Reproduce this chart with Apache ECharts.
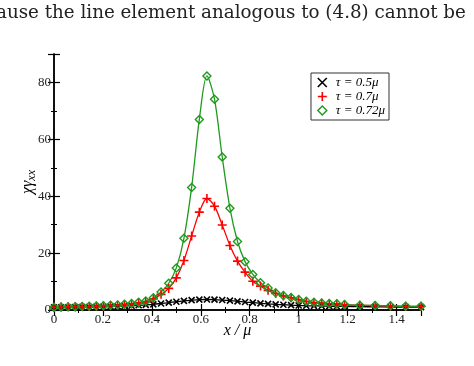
<!DOCTYPE html>
<html>
<head>
<meta charset="utf-8">
<script src="https://cdn.jsdelivr.net/npm/echarts@6/dist/echarts.min.js"></script>
<style>
html,body{margin:0;padding:0;background:#fff;}
#chart{width:474px;height:366px;}
</style>
</head>
<body>
<div id="chart"></div>
<script>
// shared x grid (x / mu)
const xValues = [0, 0.029, 0.058, 0.087, 0.115, 0.144, 0.173, 0.202, 0.231, 0.26, 0.288, 0.317, 0.346, 0.375,
  0.406, 0.4375, 0.469, 0.5, 0.531, 0.5625, 0.594, 0.625, 0.656, 0.6875, 0.719, 0.75, 0.781, 0.8125, 0.844,
  0.875, 0.906, 0.9375, 0.969, 1.0, 1.031, 1.0625, 1.094, 1.125, 1.156, 1.1875, 1.25, 1.3125, 1.375, 1.4375, 1.5];

const tau05 = [0.9, 0.9, 0.95, 1.0, 1.0, 1.05, 1.1, 1.15, 1.2, 1.3, 1.4, 1.5, 1.65, 1.8,
  2.0, 2.3, 2.6, 2.9, 3.2, 3.45, 3.65, 3.7, 3.65, 3.5, 3.3, 3.05, 2.8, 2.6, 2.35,
  2.15, 2.0, 1.85, 1.7, 1.6, 1.5, 1.45, 1.4, 1.35, 1.3, 1.25, 1.2, 1.1, 1.05, 1.0, 1.0];

const tau07 = [1.0, 1.05, 1.1, 1.15, 1.2, 1.25, 1.35, 1.45, 1.55, 1.7, 1.9, 2.1, 2.4, 2.8,
  3.9, 5.5, 7.6, 11.3, 17.4, 26.0, 34.4, 39.2, 36.5, 29.9, 22.7, 17.2, 13.3, 10.1, 8.4,
  6.9, 5.8, 4.9, 4.3, 3.6, 3.0, 2.6, 2.4, 2.2, 2.1, 1.85, 1.65, 1.55, 1.45, 1.3, 1.3];

const tau072 = [1.0, 1.05, 1.1, 1.15, 1.2, 1.3, 1.4, 1.5, 1.65, 1.8, 2.0, 2.3, 2.7, 3.2,
  4.3, 6.3, 9.4, 14.8, 25.2, 43.1, 67.0, 82.3, 74.1, 53.8, 35.8, 24.1, 17.0, 12.5, 9.6,
  7.7, 6.1, 5.1, 4.4, 3.7, 3.1, 2.7, 2.5, 2.3, 2.2, 1.9, 1.7, 1.6, 1.5, 1.3, 1.3];

const seriesNames = ['τ = 0.5μ', 'τ = 0.7μ', 'τ = 0.72μ'];
const xTicks = [0, 0.2, 0.4, 0.6, 0.8, 1, 1.2, 1.4];
const yTicks = [0, 20, 40, 60, 80];

const pairs = arr => xValues.map((x, i) => [x, arr[i]]);
const SERIF = '"Liberation Serif", "DejaVu Serif", serif';
const crossPath = 'path://M0,0L10,10M10,0L0,10';
const plusPath = 'path://M5,0L5,10M0,5L10,5';
const GREEN = '#1e9a1e';

const chart = echarts.init(document.getElementById('chart'), null, {renderer: 'canvas'});

const axisCommon = {
  axisLine: {lineStyle: {color: '#000', width: 1.5}},
  axisTick: {inside: true, length: 6, lineStyle: {color: '#000', width: 1.2}},
  minorTick: {show: true, splitNumber: 2, length: 3, lineStyle: {color: '#000', width: 1}},
  splitLine: {show: false}
};

chart.setOption({
  animation: false,
  backgroundColor: '#fff',
  graphic: [{
    type: 'text', left: -4, top: 4,
    style: {text: 'ause the line element analogous to (4.8) cannot be', font: '18.3px "DejaVu Serif", serif', fill: '#222'}
  }],
  grid: {left: 54, right: 53, top: 54, bottom: 56},
  legend: {
    right: 85, top: 73,
    orient: 'vertical',
    borderColor: '#333', borderWidth: 1, borderRadius: 0,
    padding: [3, 4, 3, 6],
    itemGap: 1, itemWidth: 9, itemHeight: 9,
    textStyle: {fontFamily: SERIF, fontStyle: 'italic', fontSize: 13, lineHeight: 13, color: '#000', padding: [0, 0, 0, 4]},
    data: [
      {name: seriesNames[0], icon: crossPath, itemStyle: {color: 'transparent', borderColor: '#000', borderWidth: 1.6}},
      {name: seriesNames[1], icon: plusPath, itemStyle: {color: 'transparent', borderColor: '#ff0000', borderWidth: 1.6}},
      {name: seriesNames[2], icon: 'diamond', itemStyle: {color: '#fff', borderColor: GREEN, borderWidth: 1.4}}
    ]
  },
  xAxis: [
    Object.assign({}, axisCommon, {
      type: 'value', min: 0, max: 1.5, interval: 0.2, position: 'bottom',
      name: 'x / μ', nameLocation: 'middle', nameGap: 13, nameMoveOverlap: false,
      nameTextStyle: {fontFamily: SERIF, fontStyle: 'italic', fontSize: 16, color: '#000'},
      axisLabel: {fontFamily: SERIF, fontSize: 13, color: '#222', margin: 3, showMaxLabel: false,
        formatter: v => xTicks.indexOf(+v.toFixed(2)) >= 0 ? String(+v.toFixed(2)) : ''}
    }),
    Object.assign({}, axisCommon, {
      type: 'value', min: 0, max: 1.5, interval: 0.2, position: 'top', axisLabel: {show: false}
    })
  ],
  yAxis: [
    Object.assign({}, axisCommon, {
      type: 'value', min: 0, max: 90, interval: 20, position: 'left',
      name: '{a|χγ}{b|xx}', nameLocation: 'middle', nameGap: 16, nameRotate: 90, nameMoveOverlap: false,
      nameTextStyle: {
        rich: {
          a: {fontFamily: SERIF, fontStyle: 'italic', fontSize: 16, color: '#000'},
          b: {fontFamily: SERIF, fontStyle: 'italic', fontSize: 12, color: '#000', padding: [8, 0, 0, 0]}
        }
      },
      axisLabel: {fontFamily: SERIF, fontSize: 13, color: '#222', margin: 3, showMaxLabel: false,
        formatter: v => yTicks.indexOf(v) >= 0 ? String(v) : ''}
    }),
    Object.assign({}, axisCommon, {
      type: 'value', min: 0, max: 90, interval: 20, position: 'right', axisLabel: {show: false}
    })
  ],
  series: [
    {
      name: seriesNames[0], type: 'line', data: pairs(tau05), smooth: 0.3,
      symbol: crossPath, symbolSize: 6,
      lineStyle: {color: '#000', width: 1.3},
      itemStyle: {color: 'transparent', borderColor: '#000', borderWidth: 1.6}
    },
    {
      name: seriesNames[1], type: 'line', data: pairs(tau07), smooth: 0.3,
      symbol: plusPath, symbolSize: 9,
      lineStyle: {color: '#ff0000', width: 1.3},
      itemStyle: {color: 'transparent', borderColor: '#ff0000', borderWidth: 1.6}
    },
    {
      name: seriesNames[2], type: 'line', data: pairs(tau072), smooth: 0.3,
      symbol: 'diamond', symbolSize: 8, showAllSymbol: true,
      lineStyle: {color: GREEN, width: 1.3},
      itemStyle: {color: 'transparent', borderColor: GREEN, borderWidth: 1.4}
    }
  ]
});
</script>
</body>
</html>
